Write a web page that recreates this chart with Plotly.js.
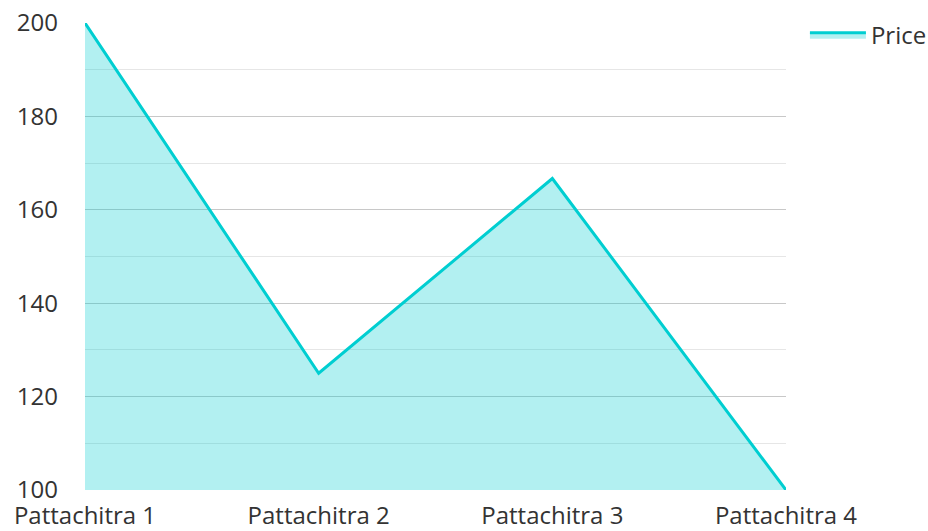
<!DOCTYPE html>
<html>
<head>
<meta charset="utf-8">
<script src="https://cdn.plot.ly/plotly-3.0.1.min.js"></script>
<style>html,body{margin:0;padding:0;background:#fff;}#chart{width:928px;height:531px;}</style>
</head>
<body>
<div id="chart"></div>
<script>
var categories = ["Pattachitra 1", "Pattachitra 2", "Pattachitra 3", "Pattachitra 4"];
var prices = [200, 125, 166.7, 100];
var seriesName = "Price";

var trace = {
  x: categories,
  y: prices,
  name: seriesName,
  type: "scatter",
  mode: "lines",
  fill: "tozeroy",
  fillcolor: "rgba(0,206,209,0.3)",
  line: {color: "#00CED1", width: 3}
};

var layout = {
  width: 928,
  height: 531,
  margin: {l: 85, r: 142, t: 23, b: 41, pad: 0, autoexpand: false},
  paper_bgcolor: "#fff",
  plot_bgcolor: "#fff",
  font: {family: "Open Sans, Noto Sans, sans-serif", size: 24, color: "#333"},
  showlegend: true,
  legend: {x: 1.027, y: 1.022, xanchor: "left", yanchor: "top", itemwidth: 56, font: {size: 24, color: "#333"}, bgcolor: "rgba(0,0,0,0)"},
  xaxis: {
    type: "category",
    range: [0, 3],
    showgrid: false,
    zeroline: false,
    showline: false,
    ticks: "",
    ticklabelstandoff: 9,
    tickfont: {size: 24, color: "#333"}
  },
  yaxis: {
    range: [100, 200],
    dtick: 20,
    tick0: 100,
    showgrid: true,
    gridcolor: "#c8c8c8",
    gridwidth: 1,
    zeroline: false,
    showline: false,
    ticks: "",
    ticklabelstandoff: 26,
    tickfont: {size: 24, color: "#333"},
    minor: {dtick: 10, tick0: 100, showgrid: true, gridcolor: "#e6e6e6", gridwidth: 1}
  }
};

Plotly.newPlot("chart", [trace], layout, {displayModeBar: false, staticPlot: true});
</script>
</body>
</html>
